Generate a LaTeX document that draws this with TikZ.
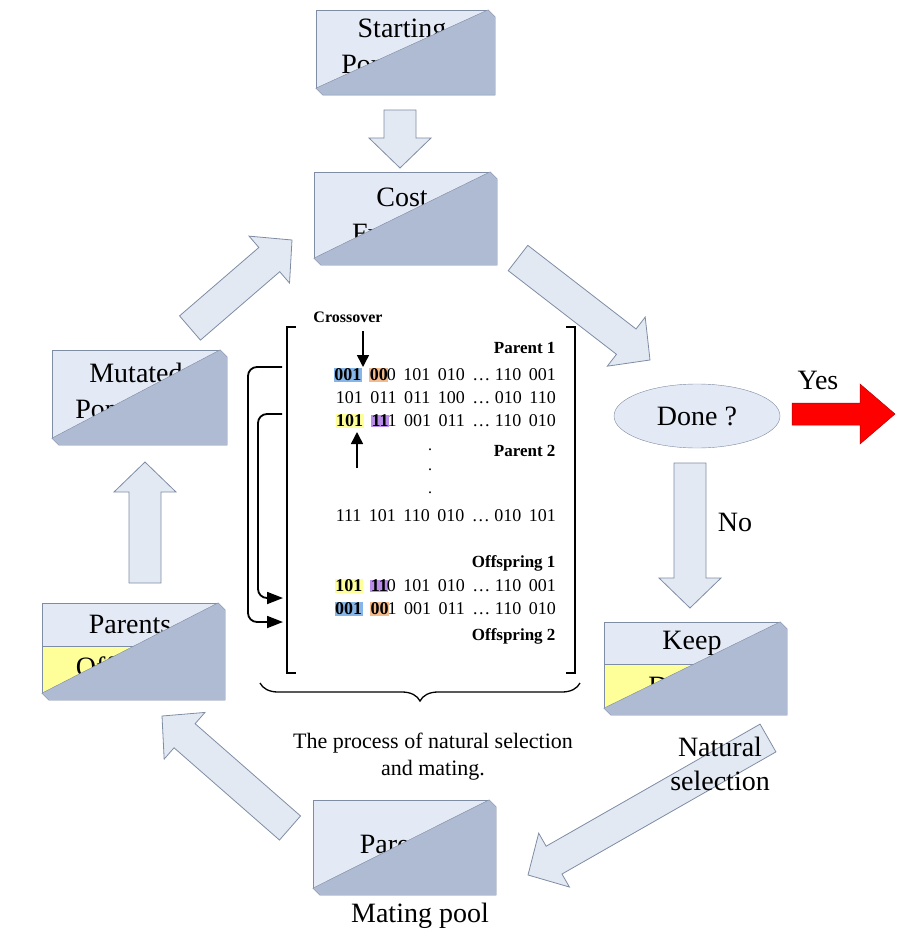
\documentclass[tikz,border=0pt]{standalone}
\usepackage{fontspec}
\setmainfont{Liberation Serif}
\usetikzlibrary{decorations.pathreplacing,arrows.meta,calc,shapes.geometric}
\definecolor{face}{HTML}{E4EAF5}
\definecolor{side}{HTML}{AEBBD3}
\definecolor{arrf}{HTML}{E2E9F3}
\definecolor{arrd}{HTML}{7E8CA4}
\definecolor{hb}{HTML}{86B6E8}
\definecolor{ho}{HTML}{F4BC8C}
\definecolor{hy}{HTML}{FFFF99}
\definecolor{hp}{HTML}{B98DE8}
\setlength\fboxsep{0.5pt}
\newcommand\fatarr[4]{%
 \pgfmathsetmacro\fang{atan2(-(#4-#2),#3-#1)}%
 \pgfmathsetmacro\flen{veclen(#3-#1,#4-#2)}%
 \pgfmathsetmacro\fbody{\flen-30}%
 \begin{scope}[shift={(#1,#2)},rotate=\fang]
 \draw[draw=arrd,fill=arrf,line width=0.8pt] (0,-16)--(\fbody,-16)--(\fbody,-31)--(\flen,0)--(\fbody,31)--(\fbody,16)--(0,16)--cycle;
 \end{scope}}
\newcommand\sidebox[1]{%
 \fill[side,draw=arrd,line width=0.4pt] (#1.north east)--++(7,7)--($(#1.south east)+(7,7)$)--($(#1.south west)+(7,7)$)--(#1.south west)--cycle;}
\begin{document}
\begin{tikzpicture}[x=1pt,y=-1pt,
 bx/.style={draw=arrd,line width=0.4pt,fill=face,align=center,inner sep=0pt,font=\fontsize{28}{36}\selectfont},
 lbl/.style={font=\fontsize{17}{20}\selectfont\bfseries,anchor=east},
 row/.style={font=\fontsize{18}{20}\selectfont,anchor=east,inner sep=0pt},
 big/.style={font=\fontsize{28}{34}\selectfont,align=center},
 captxt/.style={font=\fontsize{22}{27}\selectfont,align=center}]
\useasboundingbox (0,0) rectangle (907,933);
% arrows
\fatarr{400}{110}{400}{168}
\fatarr{518}{258}{650}{360}
\fatarr{690}{463}{690}{608}
\fatarr{768}{738}{528}{875}
\fatarr{290}{828}{162}{716}
\fatarr{145}{583}{145}{462}
\fatarr{190}{328}{292}{240}
% boxes
\node[bx,minimum width=172,minimum height=78] (sp) at (402,49) {Starting\\Population};
\sidebox{sp}
\node[bx,minimum width=176,minimum height=86] (cf) at (402,215) {Cost\\Function};
\sidebox{cf}
\node[bx,minimum width=168,minimum height=88] (mp) at (136,394) {Mutated\\Population};
\sidebox{mp}
\node[bx,minimum width=176,minimum height=88] (pp) at (401,844) {Parents};
\sidebox{pp}
\node[bx,minimum width=176,minimum height=43] (po1) at (130,624.5) {Parents};
\node[bx,minimum width=176,minimum height=47,fill=hy] (po2) at (130,669.5) {Offspring};
\fill[side,draw=arrd,line width=0.4pt] (po1.north east)--++(7,7)--($(po2.south east)+(7,7)$)--($(po2.south west)+(7,7)$)--(po2.south west)--cycle;
\node[bx,minimum width=176,minimum height=42] (kp) at (692,643) {Keep};
\node[bx,minimum width=176,minimum height=44,fill=hy] (dc) at (692,686) {Discard};
\fill[side,draw=arrd,line width=0.4pt] (kp.north east)--++(7,7)--($(dc.south east)+(7,7)$)--($(dc.south west)+(7,7)$)--(dc.south west)--cycle;
\node[draw=arrd,fill=face,ellipse,minimum width=166,minimum height=64,inner sep=0pt,font=\fontsize{28}{34}\selectfont] (dn) at (697,416) {Done ?};
% red arrow
\fill[red,draw=red!70!black,line width=0.5pt] (792,403)--(860,403)--(860,384)--(895,414)--(860,444)--(860,425)--(792,425)--cycle;
\node[big] (yes) at (818,380) {Yes};
\node[big] (no) at (735,522) {No};
\node[big] (ns) at (720,764) {Natural\\selection};
\node[big] (mpl) at (420,916) {Mating pool};
\node[captxt] (proc) at (433,757) {The process of natural selection\\and mating.};
% brackets
\draw[line width=1.5pt] (296,327)--(287,327)--(287,673)--(296,673);
\draw[line width=1.5pt] (566,327)--(575,327)--(575,673)--(566,673);
\draw[line width=1.3pt,decoration={brace,mirror,amplitude=18pt},decorate] (260,683)--(580,683);
% labels
\node[font=\fontsize{16}{18}\selectfont\bfseries] (co) at (348,317) {Crossover};
\node[lbl] (p1) at (559,348) {Parent 1};
\node[lbl] (p2) at (559,451) {Parent 2};
\node[lbl] (o1) at (559,563) {Offspring 1};
\node[lbl] (o2) at (559,636) {Offspring 2};
% rows
\node[row] (r1) at (556,375) {\colorbox{hb}{\textbf{001}}\, \colorbox{ho}{\textbf{00}}\hspace{-1.5pt}0\, 101\, 010\, … 110\, 001};
\node[row] (r2) at (556,398) {101\, 011\, 011\, 100\, … 010\, 110};
\node[row] (r3) at (556,421) {\colorbox{hy}{\textbf{101}}\, \colorbox{hp}{\textbf{11}}\hspace{-1.5pt}1\, 001\, 011\, … 110\, 010};
\node[row] (r4) at (556,516) {111\, 101\, 110\, 010\, … 010\, 101};
\node[row] (r5) at (556,586) {\colorbox{hy}{\textbf{101}}\, \colorbox{hp}{\textbf{11}}\hspace{-1.5pt}0\, 101\, 010\, … 110\, 001};
\node[row] (r6) at (556,609) {\colorbox{hb}{\textbf{001}}\, \colorbox{ho}{\textbf{00}}\hspace{-1.5pt}1\, 001\, 011\, … 110\, 010};
\node[font=\fontsize{16}{16}\selectfont] (d1) at (430,450) {.};
\node[font=\fontsize{16}{16}\selectfont] (d2) at (430,470) {.};
\node[font=\fontsize{16}{16}\selectfont] (d3) at (430,493) {.};
% crossover arrows
\coordinate (ca1) at (363,331); \coordinate (ca2) at (363,367);
\coordinate (cb1) at (357,468); \coordinate (cb2) at (357,432);
\draw[line width=1.5pt,-{Triangle[length=12pt,width=12pt]}] (ca1)--(ca2);
\draw[line width=1.5pt,-{Triangle[length=12pt,width=12pt]}] (cb1)--(cb2);
% connectors
\coordinate (s1) at (282,367); \coordinate (e1) at (283,622);
\coordinate (s2) at (282,414); \coordinate (e2) at (283,598);
\draw[line width=1.8pt,rounded corners=9pt,-{Triangle[length=16pt,width=12pt]}] (s1)--(248,367)--(248,622)--(e1);
\draw[line width=1.8pt,rounded corners=9pt,-{Triangle[length=16pt,width=12pt]}] (s2)--(258,414)--(258,598)--(e2);
\end{tikzpicture}
\end{document}
